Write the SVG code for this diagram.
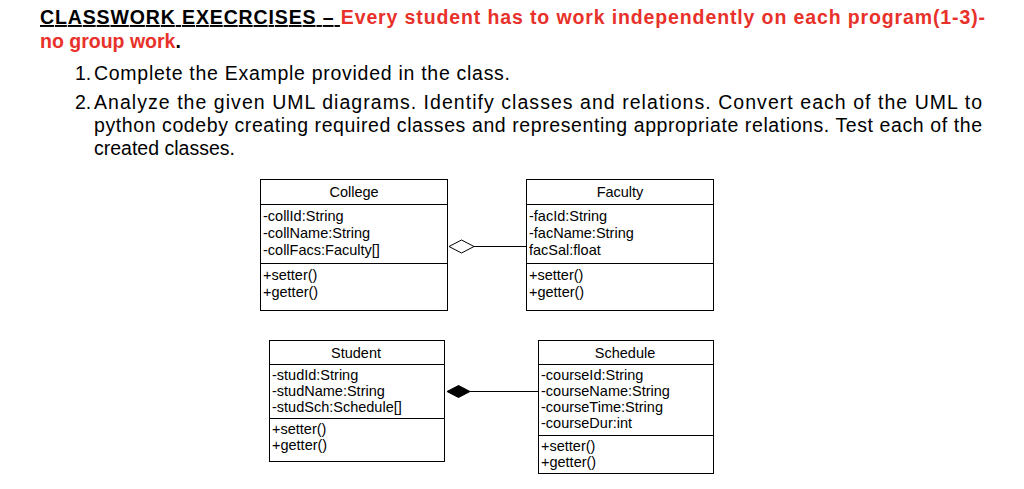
<svg xmlns="http://www.w3.org/2000/svg" width="1024" height="489" viewBox="0 0 1024 489">
<style>
.h{font-family:"Liberation Sans",Arial,sans-serif;font-size:19.5px;font-weight:bold}
.t{font-family:"Liberation Sans",Arial,sans-serif;font-size:19.5px;fill:#000}
.u{font-family:"Liberation Sans",Arial,sans-serif;font-size:14.5px;fill:#000}
.c{text-anchor:middle}
.b{fill:#fff;stroke:#000;stroke-width:1}
.l{stroke:#000;stroke-width:1}
</style>
<rect width="1024" height="489" fill="#fff"/>
<text class="h" x="40" y="24" textLength="945"><tspan fill="#000" text-decoration="underline">CLASSWORK EXECRCISES – </tspan><tspan fill="#e8312a">Every student has to work independently on each program(1-3)-</tspan></text>
<text class="h" x="40" y="48"><tspan fill="#e8312a">no group work</tspan><tspan fill="#000">.</tspan></text>
<text class="t" x="75" y="80">1.</text><text class="t" x="94" y="80" textLength="416">Complete the Example provided in the class.</text>
<text class="t" x="75" y="109">2.</text><text class="t" x="94" y="109" textLength="888">Analyze the given UML diagrams. Identify classes and relations. Convert each of the UML to</text>
<text class="t" x="94" y="132" textLength="888">python codeby creating required classes and representing appropriate relations. Test each of the</text>
<text class="t" x="94" y="155">created classes.</text>
<g id="college">
<rect class="b" x="260.5" y="179.5" width="187" height="131"/>
<line class="l" x1="260" y1="204.5" x2="447" y2="204.5"/><line class="l" x1="260" y1="263.5" x2="447" y2="263.5"/>
<text class="u c" x="354" y="197">College</text>
<text class="u" x="263" y="221">-collId:String</text><text class="u" x="263" y="238">-collName:String</text><text class="u" x="263" y="255">-collFacs:Faculty[]</text>
<text class="u" x="263" y="280">+setter()</text><text class="u" x="263" y="297">+getter()</text>
</g>
<g id="faculty">
<rect class="b" x="526.5" y="179.5" width="187" height="131"/>
<line class="l" x1="526" y1="204.5" x2="713" y2="204.5"/><line class="l" x1="526" y1="263.5" x2="713" y2="263.5"/>
<text class="u c" x="620" y="197">Faculty</text>
<text class="u" x="529" y="221">-facId:String</text><text class="u" x="529" y="238">-facName:String</text><text class="u" x="529" y="255">facSal:float</text>
<text class="u" x="529" y="280">+setter()</text><text class="u" x="529" y="297">+getter()</text>
</g>
<g id="student">
<rect class="b" x="269.5" y="340.5" width="175" height="121"/>
<line class="l" x1="269" y1="364.5" x2="444" y2="364.5"/><line class="l" x1="269" y1="418.5" x2="444" y2="418.5"/>
<text class="u c" x="356" y="358">Student</text>
<text class="u" x="272" y="380">-studId:String</text><text class="u" x="272" y="396">-studName:String</text><text class="u" x="272" y="412">-studSch:Schedule[]</text>
<text class="u" x="272" y="434">+setter()</text><text class="u" x="272" y="450">+getter()</text>
</g>
<g id="schedule">
<rect class="b" x="538.5" y="340.5" width="175" height="133"/>
<line class="l" x1="538" y1="364.5" x2="713" y2="364.5"/><line class="l" x1="538" y1="435.5" x2="713" y2="435.5"/>
<text class="u c" x="625" y="358">Schedule</text>
<text class="u" x="541" y="380">-courseId:String</text><text class="u" x="541" y="396">-courseName:String</text><text class="u" x="541" y="412">-courseTime:String</text><text class="u" x="541" y="428">-courseDur:int</text>
<text class="u" x="541" y="451">+setter()</text><text class="u" x="541" y="467">+getter()</text>
</g>
<g id="connectors">
<line class="l" x1="474" y1="246.5" x2="526" y2="246.5"/>
<polygon points="449,246.5 461.5,240 474,246.5 461.5,253" fill="#fff" stroke="#000"/>
<line class="l" x1="470" y1="391.5" x2="538" y2="391.5"/>
<polygon points="447,391.5 458.5,385.5 470,391.5 458.5,397.5" fill="#000" stroke="#000"/>
</g>
</svg>
